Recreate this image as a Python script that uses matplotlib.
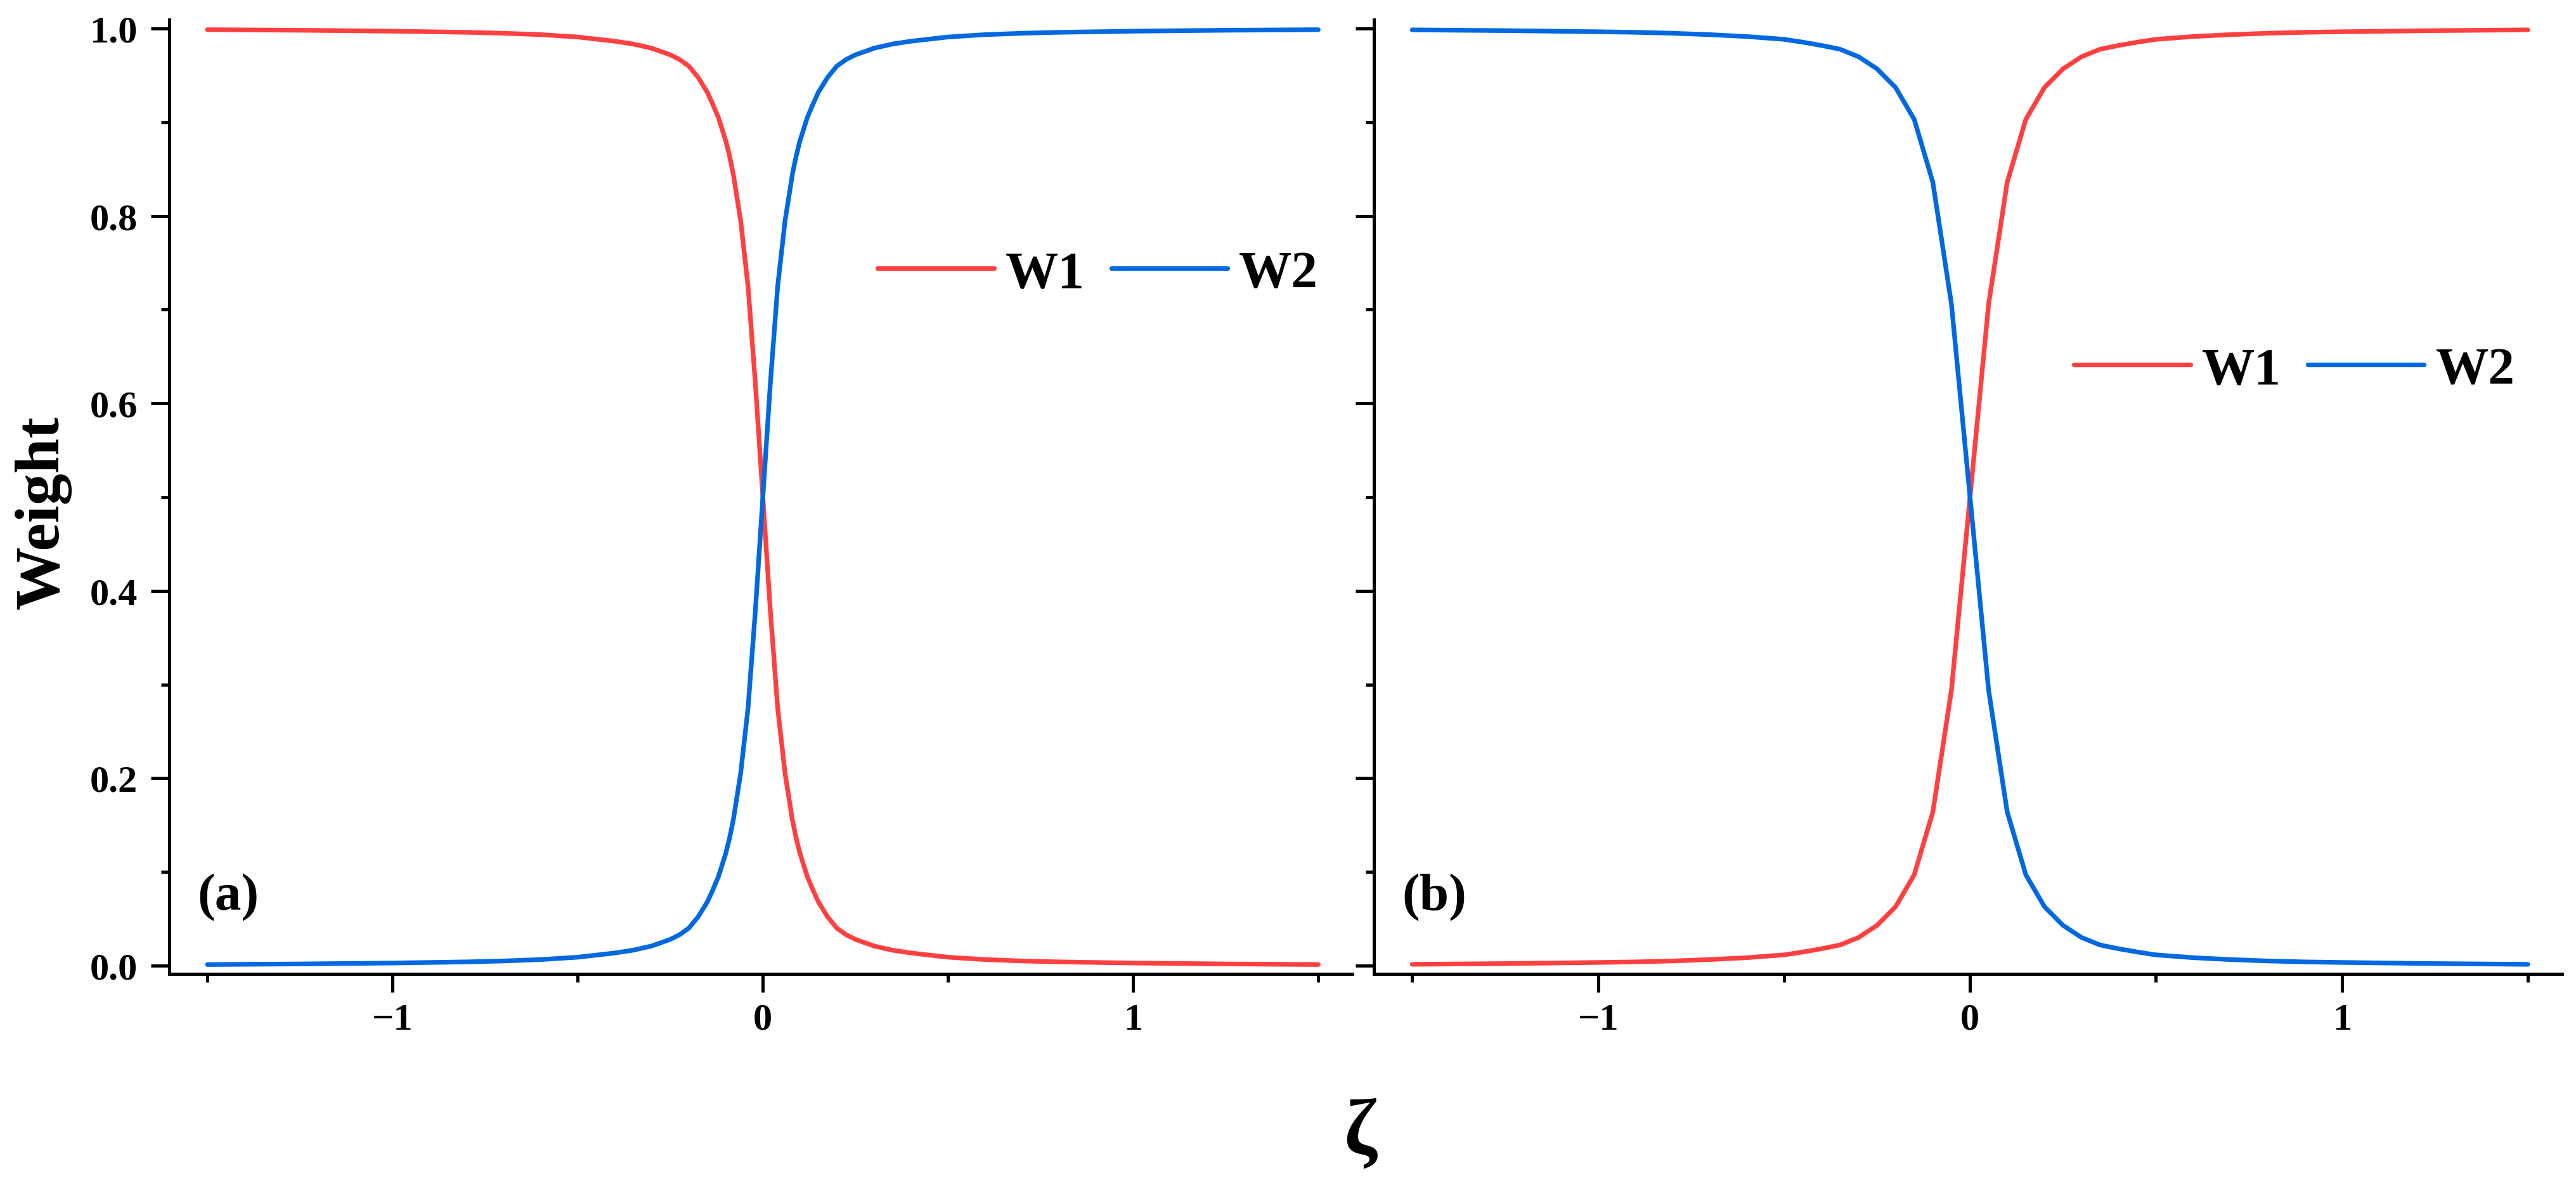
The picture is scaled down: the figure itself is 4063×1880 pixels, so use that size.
import matplotlib
matplotlib.use("Agg")
import matplotlib.pyplot as plt
from matplotlib.ticker import MultipleLocator, FormatStrFormatter

plt.rcParams['font.family'] = ['Liberation Serif', 'DejaVu Serif']
plt.rcParams['font.weight'] = 'bold'

# panel (a): smooth curves
zeta_a = [-1.5, -1.25, -1.0, -0.8, -0.7, -0.6, -0.5, -0.4, -0.35, -0.3, -0.25, -0.225,
          -0.2, -0.175, -0.15, -0.135, -0.12, -0.1, -0.09, -0.08, -0.06, -0.04, -0.02,
          0.0, 0.02, 0.04, 0.06, 0.08, 0.09, 0.1, 0.12, 0.135, 0.15, 0.175, 0.2, 0.225,
          0.25, 0.3, 0.35, 0.4, 0.5, 0.6, 0.7, 0.8, 1.0, 1.25, 1.5]
w1_a = [0.9988, 0.9982, 0.9972, 0.996, 0.995, 0.9935, 0.991, 0.9865, 0.9835, 0.979,
        0.972, 0.967, 0.960, 0.948, 0.932, 0.919, 0.905, 0.880, 0.864, 0.845, 0.795,
        0.725, 0.620, 0.500, 0.380, 0.275, 0.205, 0.155, 0.136, 0.120, 0.095, 0.081,
        0.068, 0.052, 0.040, 0.033, 0.028, 0.021, 0.0165, 0.0135, 0.009, 0.0065, 0.005,
        0.004, 0.0028, 0.0018, 0.0012]
w2_a = [0.0012, 0.0018, 0.0028, 0.004, 0.005, 0.0065, 0.009, 0.0135, 0.0165, 0.021,
        0.028, 0.033, 0.040, 0.052, 0.068, 0.081, 0.095, 0.120, 0.136, 0.155, 0.205,
        0.275, 0.380, 0.500, 0.620, 0.725, 0.795, 0.845, 0.864, 0.880, 0.905, 0.919,
        0.932, 0.948, 0.960, 0.967, 0.972, 0.979, 0.9835, 0.9865, 0.991, 0.9935, 0.995,
        0.996, 0.9972, 0.9982, 0.9988]

# panel (b): coarse grid, W1 and W2 swapped
zeta_b = [-1.5, -1.25, -1.0, -0.9, -0.8, -0.7, -0.6, -0.5, -0.45, -0.4, -0.35, -0.3,
          -0.25, -0.2, -0.15, -0.1, -0.05, 0.0, 0.05, 0.1, 0.15, 0.2, 0.25, 0.3, 0.35,
          0.4, 0.45, 0.5, 0.6, 0.7, 0.8, 0.9, 1.0, 1.25, 1.5]
w1_b = [0.0014, 0.0022, 0.0034, 0.004, 0.005, 0.0065, 0.0085, 0.0115, 0.0145, 0.018,
        0.022, 0.030, 0.043, 0.063, 0.097, 0.164, 0.294, 0.500, 0.706, 0.836, 0.903,
        0.937, 0.957, 0.970, 0.978, 0.982, 0.9855, 0.9885, 0.9915, 0.9935, 0.995,
        0.996, 0.9966, 0.9978, 0.9986]
w2_b = [0.9986, 0.9978, 0.9966, 0.996, 0.995, 0.9935, 0.9915, 0.9885, 0.9855, 0.982,
        0.978, 0.970, 0.957, 0.937, 0.903, 0.836, 0.706, 0.500, 0.294, 0.164, 0.097,
        0.063, 0.043, 0.030, 0.022, 0.018, 0.0145, 0.0115, 0.0085, 0.0065, 0.005,
        0.004, 0.0034, 0.0022, 0.0014]

RED = '#FF4040'
BLUE = '#0068E0'
W, H = 4063, 1881

fig = plt.figure(figsize=(W / 300, H / 300), dpi=300)
ax1 = fig.add_axes([267 / W, 1 - 1537 / H, 1866 / W, 1505 / H])
ax2 = fig.add_axes([2167 / W, 1 - 1537 / H, 1874 / W, 1505 / H])

def style(ax, show_ylabels):
    ax.set_xlim(-1.603, 1.592)
    ax.set_ylim(-0.0088, 1.0095)
    for s in ['top', 'right']:
        ax.spines[s].set_visible(False)
    for s in ['left', 'bottom']:
        ax.spines[s].set_linewidth(1.2)
    ax.xaxis.set_major_locator(MultipleLocator(1))
    ax.xaxis.set_minor_locator(MultipleLocator(0.5))
    ax.yaxis.set_major_locator(MultipleLocator(0.2))
    ax.yaxis.set_minor_locator(MultipleLocator(0.1))
    ax.yaxis.set_major_formatter(FormatStrFormatter('%.1f'))
    ax.tick_params(which='major', length=7, width=1.2, labelsize=14.5)
    ax.tick_params(which='minor', length=3.2, width=1.2)
    ax.tick_params(axis='x', which='major', pad=4)
    ax.tick_params(axis='y', which='major', pad=5, labelleft=show_ylabels)

def draw(ax, x, w1, w2, leg_xy, tag):
    ax.plot(x, w1, color=RED, lw=1.75, solid_capstyle='round', solid_joinstyle='round', label='W1')
    ax.plot(x, w2, color=BLUE, lw=1.75, solid_capstyle='round', solid_joinstyle='round', label='W2')
    ax.legend(loc='center left', bbox_to_anchor=leg_xy, bbox_transform=ax.transData,
              ncol=2, frameon=False, fontsize=20, handlelength=2.2, handletextpad=0.22,
              columnspacing=0.5, borderpad=0, borderaxespad=0)
    ax.text(-1.527, 0.06, tag, fontsize=20, fontweight='bold', va='baseline', ha='left')

style(ax1, True)
style(ax2, False)
draw(ax1, zeta_a, w1_a, w2_a, (0.31, 0.738), '(a)')
draw(ax2, zeta_b, w1_b, w2_b, (0.28, 0.635), '(b)')

fig.text(68 / W, 1 - 808 / H, 'Weight', rotation=90, fontsize=24, fontweight='bold',
         ha='center', va='center')
fig.text(2145 / W, 1 - 1790 / H, 'ζ', fontsize=30, fontweight='bold',
         ha='center', va='center')

fig.savefig('out.png', dpi=300)
